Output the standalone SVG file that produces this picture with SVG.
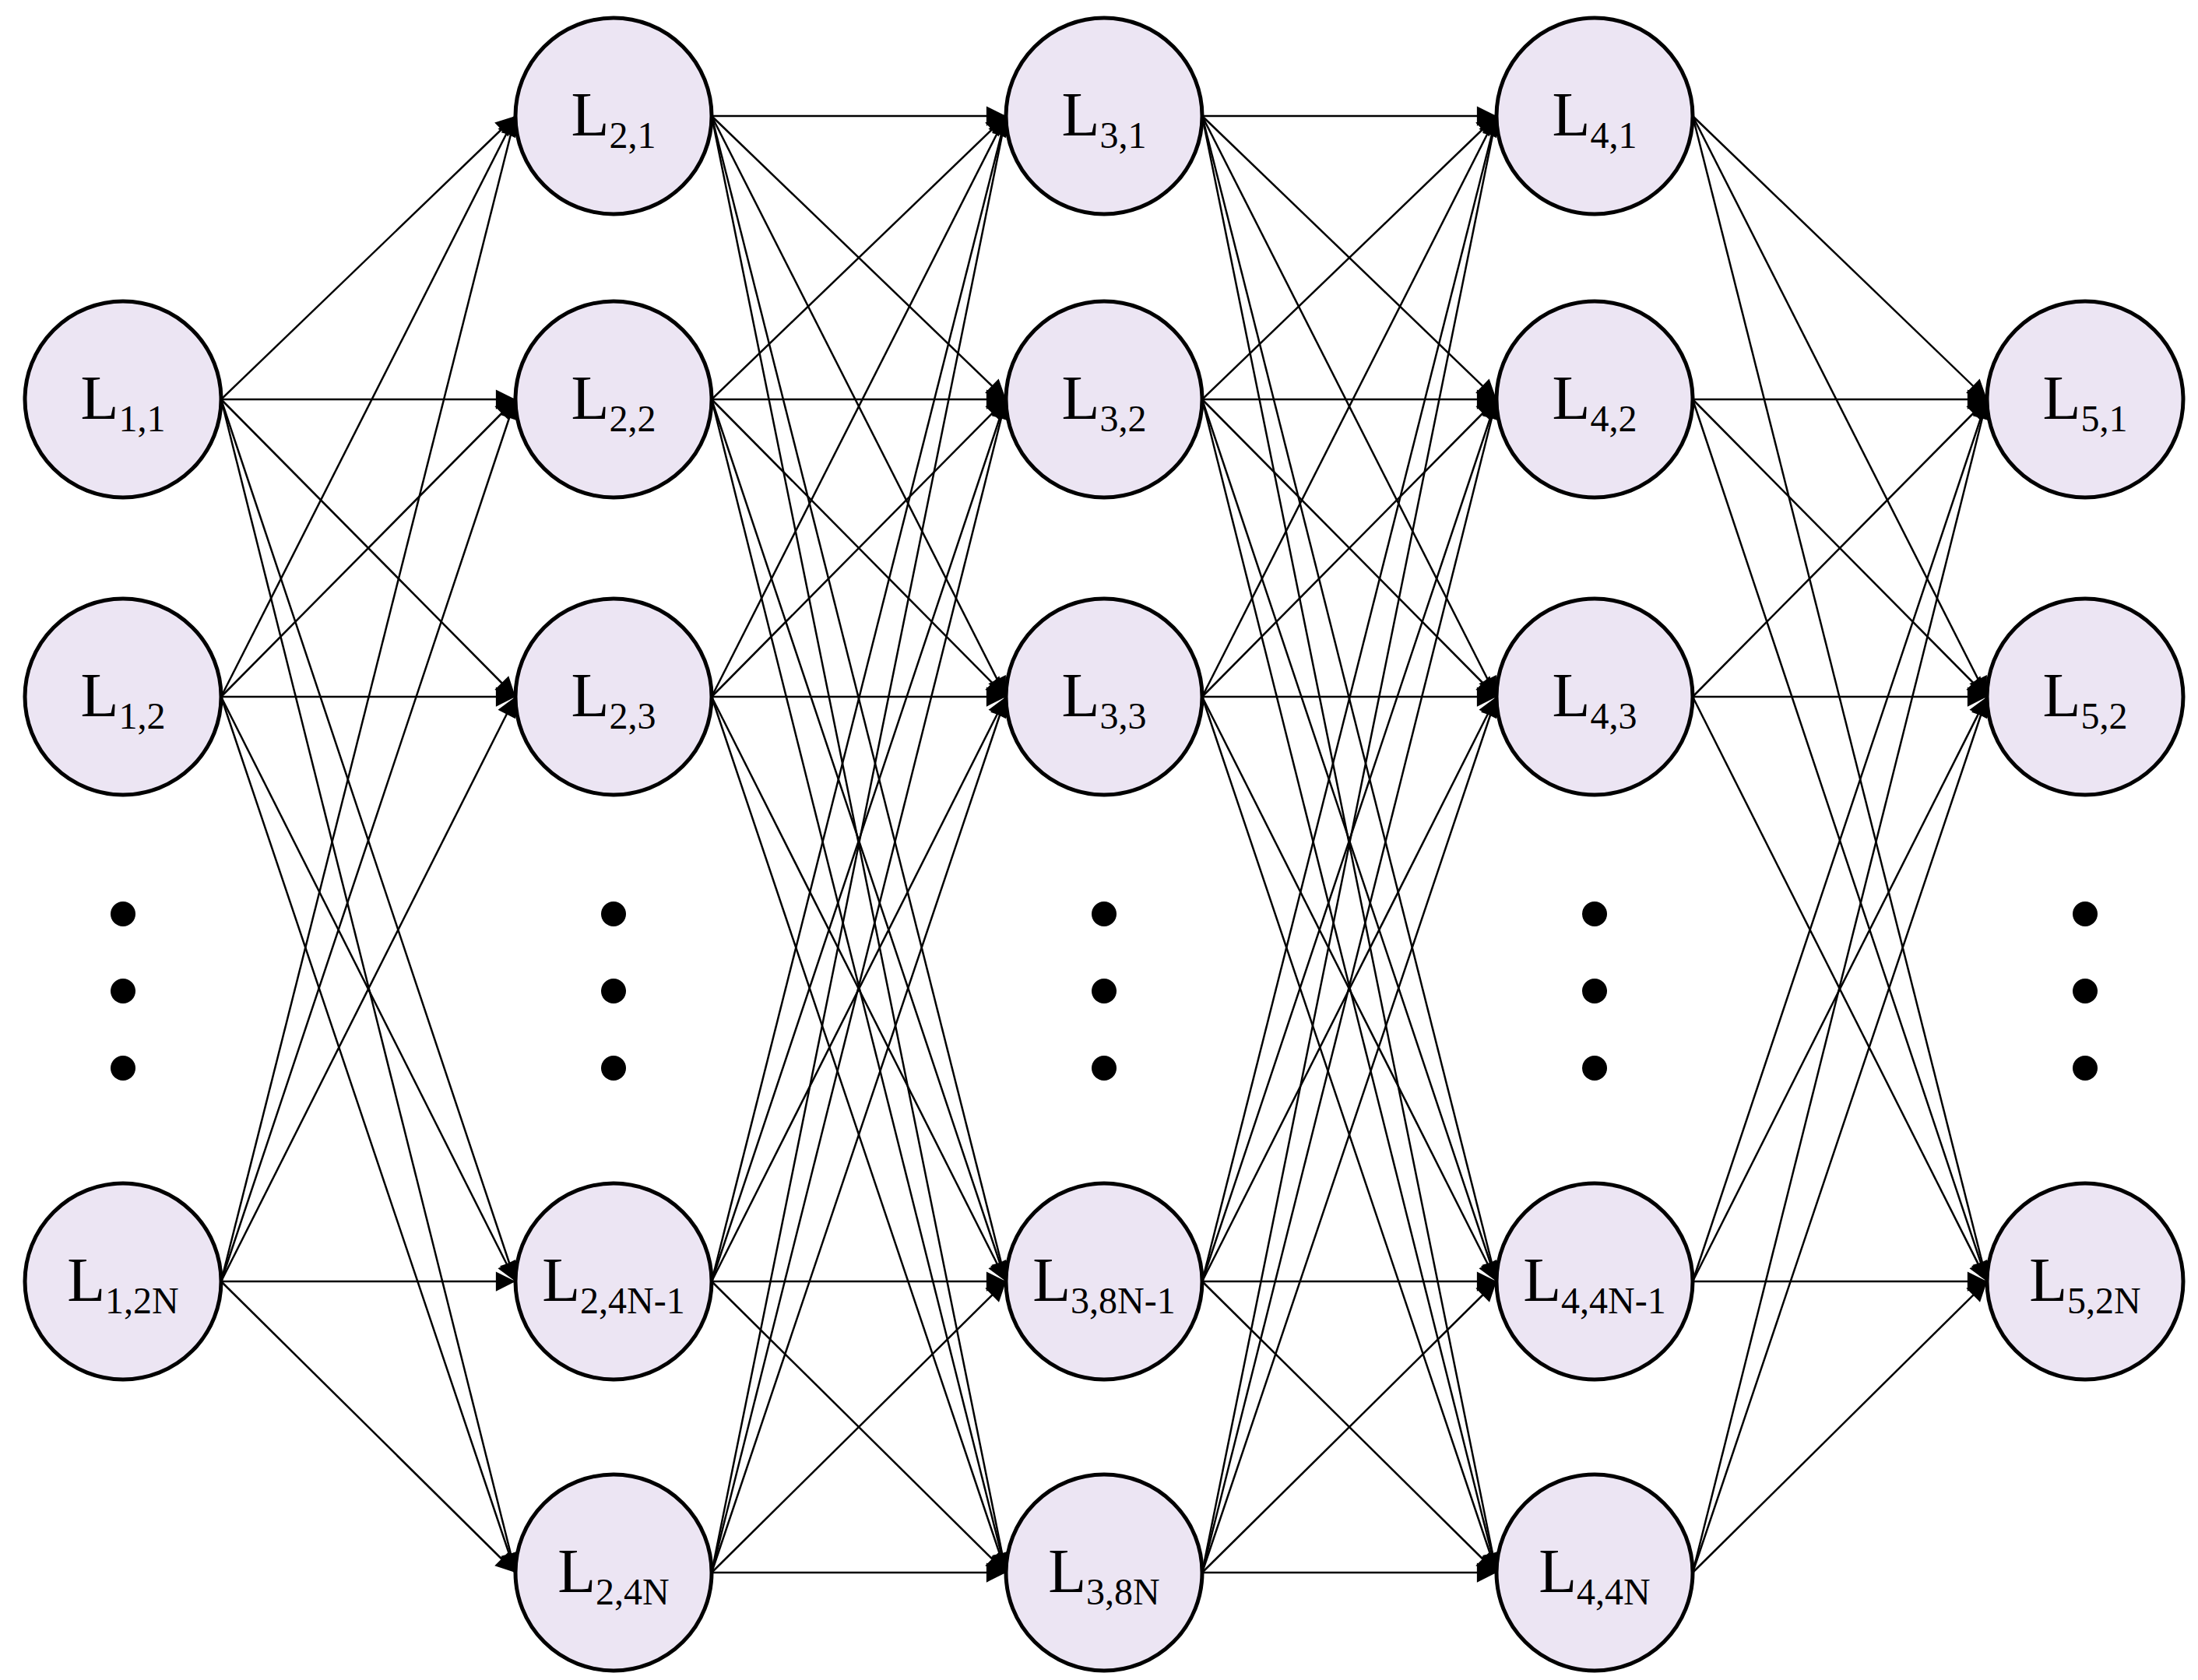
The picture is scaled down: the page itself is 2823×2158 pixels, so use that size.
<svg xmlns="http://www.w3.org/2000/svg" width="2823" height="2158" viewBox="0 0 2823 2158">
<style>
.n{fill:#ECE5F3;stroke:#000;stroke-width:5}
.e line{stroke:#000;stroke-width:2.5;marker-end:url(#a)}
.t{font-family:"Liberation Serif",serif;font-size:80px;text-anchor:middle}
.s{font-size:48px}
.d{fill:#000}
</style>
<defs><marker id="a" viewBox="0 0 10 10" refX="10" refY="5" markerWidth="9" markerHeight="9" markerUnits="userSpaceOnUse" orient="auto" style="overflow:visible"><path d="M0,0L10,5L0,10z" transform="scale(2.8) translate(-6.4,-3.2)" fill="#000"/></marker></defs>
<rect width="2823" height="2158" fill="#fff"/>
<g class="e" id="edges">
<line x1="284" y1="513" x2="662" y2="149"/><line x1="284" y1="513" x2="662" y2="513"/><line x1="284" y1="513" x2="662" y2="895"/><line x1="284" y1="513" x2="662" y2="1646"/><line x1="284" y1="513" x2="662" y2="2020"/>
<line x1="284" y1="895" x2="662" y2="149"/><line x1="284" y1="895" x2="662" y2="513"/><line x1="284" y1="895" x2="662" y2="895"/><line x1="284" y1="895" x2="662" y2="1646"/><line x1="284" y1="895" x2="662" y2="2020"/>
<line x1="284" y1="1646" x2="662" y2="149"/><line x1="284" y1="1646" x2="662" y2="513"/><line x1="284" y1="1646" x2="662" y2="895"/><line x1="284" y1="1646" x2="662" y2="1646"/><line x1="284" y1="1646" x2="662" y2="2020"/>
<line x1="914" y1="149" x2="1292" y2="149"/><line x1="914" y1="149" x2="1292" y2="513"/><line x1="914" y1="149" x2="1292" y2="895"/><line x1="914" y1="149" x2="1292" y2="1646"/><line x1="914" y1="149" x2="1292" y2="2020"/>
<line x1="914" y1="513" x2="1292" y2="149"/><line x1="914" y1="513" x2="1292" y2="513"/><line x1="914" y1="513" x2="1292" y2="895"/><line x1="914" y1="513" x2="1292" y2="1646"/><line x1="914" y1="513" x2="1292" y2="2020"/>
<line x1="914" y1="895" x2="1292" y2="149"/><line x1="914" y1="895" x2="1292" y2="513"/><line x1="914" y1="895" x2="1292" y2="895"/><line x1="914" y1="895" x2="1292" y2="1646"/><line x1="914" y1="895" x2="1292" y2="2020"/>
<line x1="914" y1="1646" x2="1292" y2="149"/><line x1="914" y1="1646" x2="1292" y2="513"/><line x1="914" y1="1646" x2="1292" y2="895"/><line x1="914" y1="1646" x2="1292" y2="1646"/><line x1="914" y1="1646" x2="1292" y2="2020"/>
<line x1="914" y1="2020" x2="1292" y2="149"/><line x1="914" y1="2020" x2="1292" y2="513"/><line x1="914" y1="2020" x2="1292" y2="895"/><line x1="914" y1="2020" x2="1292" y2="1646"/><line x1="914" y1="2020" x2="1292" y2="2020"/>
<line x1="1544" y1="149" x2="1922" y2="149"/><line x1="1544" y1="149" x2="1922" y2="513"/><line x1="1544" y1="149" x2="1922" y2="895"/><line x1="1544" y1="149" x2="1922" y2="1646"/><line x1="1544" y1="149" x2="1922" y2="2020"/>
<line x1="1544" y1="513" x2="1922" y2="149"/><line x1="1544" y1="513" x2="1922" y2="513"/><line x1="1544" y1="513" x2="1922" y2="895"/><line x1="1544" y1="513" x2="1922" y2="1646"/><line x1="1544" y1="513" x2="1922" y2="2020"/>
<line x1="1544" y1="895" x2="1922" y2="149"/><line x1="1544" y1="895" x2="1922" y2="513"/><line x1="1544" y1="895" x2="1922" y2="895"/><line x1="1544" y1="895" x2="1922" y2="1646"/><line x1="1544" y1="895" x2="1922" y2="2020"/>
<line x1="1544" y1="1646" x2="1922" y2="149"/><line x1="1544" y1="1646" x2="1922" y2="513"/><line x1="1544" y1="1646" x2="1922" y2="895"/><line x1="1544" y1="1646" x2="1922" y2="1646"/><line x1="1544" y1="1646" x2="1922" y2="2020"/>
<line x1="1544" y1="2020" x2="1922" y2="149"/><line x1="1544" y1="2020" x2="1922" y2="513"/><line x1="1544" y1="2020" x2="1922" y2="895"/><line x1="1544" y1="2020" x2="1922" y2="1646"/><line x1="1544" y1="2020" x2="1922" y2="2020"/>
<line x1="2174" y1="149" x2="2552" y2="513"/><line x1="2174" y1="149" x2="2552" y2="895"/><line x1="2174" y1="149" x2="2552" y2="1646"/>
<line x1="2174" y1="513" x2="2552" y2="513"/><line x1="2174" y1="513" x2="2552" y2="895"/><line x1="2174" y1="513" x2="2552" y2="1646"/>
<line x1="2174" y1="895" x2="2552" y2="513"/><line x1="2174" y1="895" x2="2552" y2="895"/><line x1="2174" y1="895" x2="2552" y2="1646"/>
<line x1="2174" y1="1646" x2="2552" y2="513"/><line x1="2174" y1="1646" x2="2552" y2="895"/><line x1="2174" y1="1646" x2="2552" y2="1646"/>
<line x1="2174" y1="2020" x2="2552" y2="513"/><line x1="2174" y1="2020" x2="2552" y2="895"/><line x1="2174" y1="2020" x2="2552" y2="1646"/>
</g>
<g id="n11"><circle class="n" cx="158" cy="513" r="126"/><text class="t" x="158" y="538">L<tspan class="s" dy="16">1,1</tspan></text></g>
<g id="n12"><circle class="n" cx="158" cy="895" r="126"/><text class="t" x="158" y="920">L<tspan class="s" dy="16">1,2</tspan></text></g>
<g id="n1N"><circle class="n" cx="158" cy="1646" r="126"/><text class="t" x="158" y="1671">L<tspan class="s" dy="16">1,2N</tspan></text></g>
<g id="n21"><circle class="n" cx="788" cy="149" r="126"/><text class="t" x="788" y="174">L<tspan class="s" dy="16">2,1</tspan></text></g>
<g id="n22"><circle class="n" cx="788" cy="513" r="126"/><text class="t" x="788" y="538">L<tspan class="s" dy="16">2,2</tspan></text></g>
<g id="n23"><circle class="n" cx="788" cy="895" r="126"/><text class="t" x="788" y="920">L<tspan class="s" dy="16">2,3</tspan></text></g>
<g id="n24"><circle class="n" cx="788" cy="1646" r="126"/><text class="t" x="788" y="1671">L<tspan class="s" dy="16">2,4N-1</tspan></text></g>
<g id="n25"><circle class="n" cx="788" cy="2020" r="126"/><text class="t" x="788" y="2045">L<tspan class="s" dy="16">2,4N</tspan></text></g>
<g id="n31"><circle class="n" cx="1418" cy="149" r="126"/><text class="t" x="1418" y="174">L<tspan class="s" dy="16">3,1</tspan></text></g>
<g id="n32"><circle class="n" cx="1418" cy="513" r="126"/><text class="t" x="1418" y="538">L<tspan class="s" dy="16">3,2</tspan></text></g>
<g id="n33"><circle class="n" cx="1418" cy="895" r="126"/><text class="t" x="1418" y="920">L<tspan class="s" dy="16">3,3</tspan></text></g>
<g id="n34"><circle class="n" cx="1418" cy="1646" r="126"/><text class="t" x="1418" y="1671">L<tspan class="s" dy="16">3,8N-1</tspan></text></g>
<g id="n35"><circle class="n" cx="1418" cy="2020" r="126"/><text class="t" x="1418" y="2045">L<tspan class="s" dy="16">3,8N</tspan></text></g>
<g id="n41"><circle class="n" cx="2048" cy="149" r="126"/><text class="t" x="2048" y="174">L<tspan class="s" dy="16">4,1</tspan></text></g>
<g id="n42"><circle class="n" cx="2048" cy="513" r="126"/><text class="t" x="2048" y="538">L<tspan class="s" dy="16">4,2</tspan></text></g>
<g id="n43"><circle class="n" cx="2048" cy="895" r="126"/><text class="t" x="2048" y="920">L<tspan class="s" dy="16">4,3</tspan></text></g>
<g id="n44"><circle class="n" cx="2048" cy="1646" r="126"/><text class="t" x="2048" y="1671">L<tspan class="s" dy="16">4,4N-1</tspan></text></g>
<g id="n45"><circle class="n" cx="2048" cy="2020" r="126"/><text class="t" x="2048" y="2045">L<tspan class="s" dy="16">4,4N</tspan></text></g>
<g id="n51"><circle class="n" cx="2678" cy="513" r="126"/><text class="t" x="2678" y="538">L<tspan class="s" dy="16">5,1</tspan></text></g>
<g id="n52"><circle class="n" cx="2678" cy="895" r="126"/><text class="t" x="2678" y="920">L<tspan class="s" dy="16">5,2</tspan></text></g>
<g id="n5N"><circle class="n" cx="2678" cy="1646" r="126"/><text class="t" x="2678" y="1671">L<tspan class="s" dy="16">5,2N</tspan></text></g>
<g id="dots" class="d">
<circle cx="158" cy="1174" r="16"/><circle cx="158" cy="1273" r="16"/><circle cx="158" cy="1372" r="16"/>
<circle cx="788" cy="1174" r="16"/><circle cx="788" cy="1273" r="16"/><circle cx="788" cy="1372" r="16"/>
<circle cx="1418" cy="1174" r="16"/><circle cx="1418" cy="1273" r="16"/><circle cx="1418" cy="1372" r="16"/>
<circle cx="2048" cy="1174" r="16"/><circle cx="2048" cy="1273" r="16"/><circle cx="2048" cy="1372" r="16"/>
<circle cx="2678" cy="1174" r="16"/><circle cx="2678" cy="1273" r="16"/><circle cx="2678" cy="1372" r="16"/>
</g>
</svg>
